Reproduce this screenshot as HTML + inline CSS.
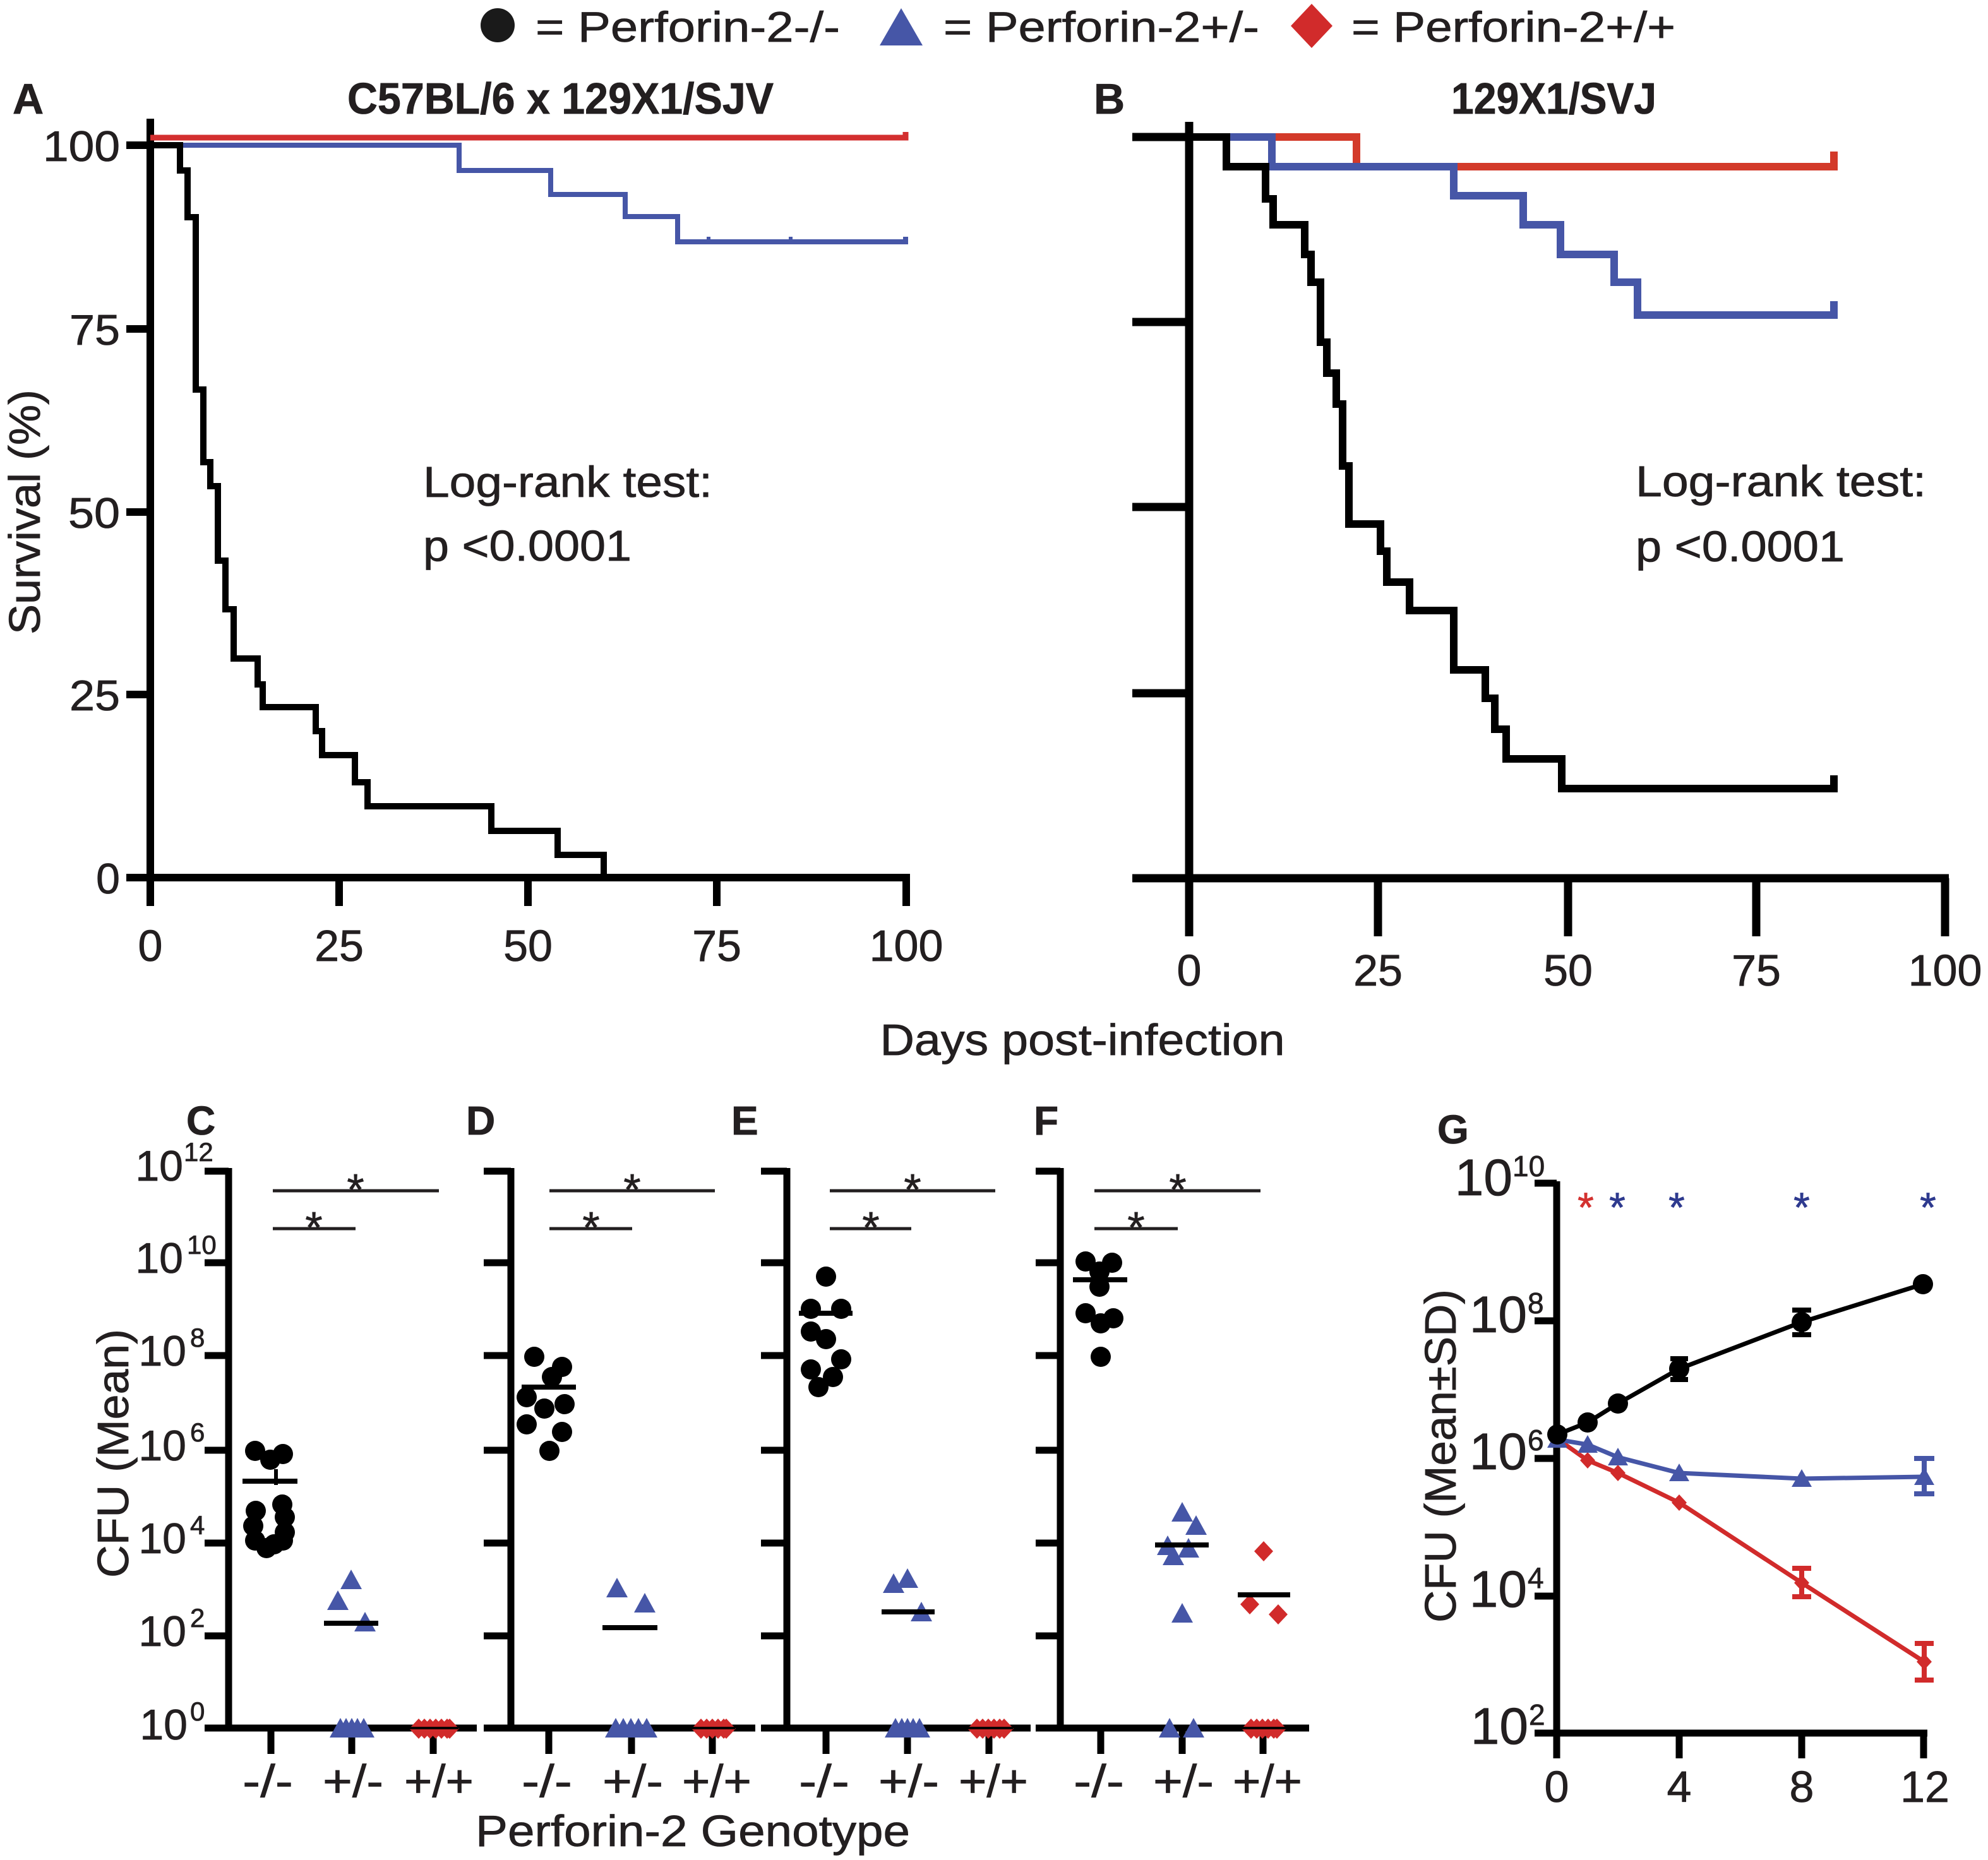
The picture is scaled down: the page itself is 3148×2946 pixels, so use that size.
<!DOCTYPE html>
<html><head><meta charset="utf-8"><style>
html,body{margin:0;padding:0;background:#fff;}
svg{display:block;}
text{font-family:"Liberation Sans",Arial,sans-serif;fill:#231f20;stroke:#231f20;stroke-width:0.8;}
.b{font-weight:bold;}
</style></head><body>
<svg xmlns="http://www.w3.org/2000/svg" xmlns:xlink="http://www.w3.org/1999/xlink" width="3148" height="2946" viewBox="0 0 3148 2946">
<defs>
<path id="tri" d="M0,-19 L17,12 L-17,12 Z" fill="#4656a7"/>
<path id="dia" d="M0,-16 L15,0 L0,16 L-15,0 Z" fill="#d12b2b"/>
<circle id="dot" r="16" fill="#000"/>
<path id="gtri" d="M0,-17 L16,11 L-16,11 Z" fill="#4656a7"/>
<path id="gdia" d="M0,-13 L12,0 L0,13 L-12,0 Z" fill="#d12b2b"/>
<circle id="gdot" r="16" fill="#000"/>
</defs>
<rect width="3148" height="2946" fill="#fff"/>

<!-- Legend -->
<circle cx="788" cy="40" r="27" fill="#1a1a1a"/>
<text x="848" y="66" font-size="68" textLength="482" lengthAdjust="spacingAndGlyphs">= Perforin-2-/-</text>
<path d="M1427,13 L1461,72 L1393,72 Z" fill="#4656a7"/>
<text x="1494" y="66" font-size="68" textLength="500" lengthAdjust="spacingAndGlyphs">= Perforin-2+/-</text>
<path d="M2077,6 L2110,41 L2077,76 L2044,41 Z" fill="#d12b2b"/>
<text x="2140" y="66" font-size="68" textLength="513" lengthAdjust="spacingAndGlyphs">= Perforin-2+/+</text>

<!-- ============ Panel A ============ -->
<text class="b" x="20" y="180" font-size="68">A</text>
<text class="b" x="550" y="180" font-size="70" textLength="675" lengthAdjust="spacingAndGlyphs">C57BL/6 x 129X1/SJV</text>
<g stroke="#000" stroke-width="12" fill="none">
<line x1="238" y1="188" x2="238" y2="1435"/>
<line x1="200" y1="1390" x2="1441" y2="1390"/>
<line x1="200" y1="230" x2="238" y2="230"/>
<line x1="200" y1="521" x2="238" y2="521"/>
<line x1="200" y1="811" x2="238" y2="811"/>
<line x1="200" y1="1100" x2="238" y2="1100"/>
<line x1="537" y1="1390" x2="537" y2="1435"/>
<line x1="836" y1="1390" x2="836" y2="1435"/>
<line x1="1135" y1="1390" x2="1135" y2="1435"/>
<line x1="1435" y1="1390" x2="1435" y2="1435"/>
</g>
<g font-size="68" text-anchor="end">
<text x="190" y="255" textLength="122" lengthAdjust="spacingAndGlyphs">100</text>
<text x="190" y="546" textLength="80" lengthAdjust="spacingAndGlyphs">75</text>
<text x="190" y="836" textLength="82" lengthAdjust="spacingAndGlyphs">50</text>
<text x="190" y="1125" textLength="80" lengthAdjust="spacingAndGlyphs">25</text>
<text x="190" y="1415">0</text>
</g>
<g font-size="70" text-anchor="middle">
<text x="238" y="1522">0</text>
<text x="537" y="1522">25</text>
<text x="836" y="1522">50</text>
<text x="1135" y="1522">75</text>
<text x="1435" y="1522">100</text>
</g>
<text transform="translate(63,811) rotate(-90)" font-size="70" text-anchor="middle" textLength="388" lengthAdjust="spacingAndGlyphs">Survival (%)</text>
<text x="670" y="787" font-size="69" textLength="458" lengthAdjust="spacingAndGlyphs">Log-rank test:</text>
<text x="670" y="888" font-size="69" textLength="330" lengthAdjust="spacingAndGlyphs">p &lt;0.0001</text>
<!-- A curves -->
<path d="M238,218 H1434 V209" stroke="#d32f2f" stroke-width="9" fill="none"/>
<path d="M238,230 H727 V270 H872 V308 H990 V343 H1073 V383 H1434 V375" stroke="#4656a7" stroke-width="8" fill="none"/>
<path d="M1122,383 V375 M1252,383 V375" stroke="#4656a7" stroke-width="6" fill="none"/>
<path d="M238,230 H285 V270 H297 V344 H310 V617 H322 V732 H333 V770 H345 V888 H357 V965 H370 V1043 H408 V1084 H416 V1120 H500 V1158 H510 V1196 H562 V1239 H582 V1277 H778 V1316 H883 V1354 H956 V1390" stroke="#000" stroke-width="10" fill="none"/>

<!-- ============ Panel B ============ -->
<text class="b" x="1732" y="180" font-size="68">B</text>
<text class="b" x="2298" y="180" font-size="70" textLength="325" lengthAdjust="spacingAndGlyphs">129X1/SVJ</text>
<g stroke="#000" stroke-width="13" fill="none">
<line x1="1883" y1="193" x2="1883" y2="1483"/>
<line x1="1793" y1="1391" x2="3086" y2="1391"/>
<line x1="1793" y1="217" x2="1883" y2="217"/>
<line x1="1793" y1="510" x2="1883" y2="510"/>
<line x1="1793" y1="803" x2="1883" y2="803"/>
<line x1="1793" y1="1098" x2="1883" y2="1098"/>
<line x1="2182" y1="1391" x2="2182" y2="1483"/>
<line x1="2483" y1="1391" x2="2483" y2="1483"/>
<line x1="2781" y1="1391" x2="2781" y2="1483"/>
<line x1="3080" y1="1391" x2="3080" y2="1483"/>
</g>
<g font-size="70" text-anchor="middle">
<text x="1883" y="1561">0</text>
<text x="2182" y="1561">25</text>
<text x="2483" y="1561">50</text>
<text x="2781" y="1561">75</text>
<text x="3080" y="1561">100</text>
</g>
<text x="2590" y="786" font-size="69" textLength="460" lengthAdjust="spacingAndGlyphs">Log-rank test:</text>
<text x="2590" y="889" font-size="69" textLength="331" lengthAdjust="spacingAndGlyphs">p &lt;0.0001</text>
<text x="1714" y="1671" font-size="70" text-anchor="middle" textLength="641" lengthAdjust="spacingAndGlyphs">Days post-infection</text>
<!-- B curves -->
<path d="M1883,217 H2148 V264 H2904 V240" stroke="#d33a2a" stroke-width="12" fill="none"/>
<path d="M1883,217 H2014 V264 H2302 V310 H2412 V356 H2471 V403 H2556 V447 H2593 V499 H2904 V477" stroke="#4656a7" stroke-width="12" fill="none"/>
<path d="M1883,217 H1942 V264 H2004 V315 H2016 V356 H2066 V403 H2076 V447 H2091 V542 H2101 V591 H2116 V640 H2126 V738 H2136 V830 H2186 V873 H2196 V922 H2232 V967 H2302 V1061 H2352 V1106 H2367 V1155 H2385 V1202 H2473 V1249 H2904 V1228" stroke="#000" stroke-width="12" fill="none"/>

<!-- ============ Panels C-F axes ============ -->
<g stroke="#000" stroke-width="11" fill="none">
<!-- C -->
<line x1="362" y1="1850" x2="362" y2="2742"/>
<line x1="324" y1="2737" x2="755" y2="2737"/>
<line x1="324" y1="1855" x2="362" y2="1855"/>
<line x1="324" y1="2000" x2="362" y2="2000"/>
<line x1="324" y1="2147" x2="362" y2="2147"/>
<line x1="324" y1="2297" x2="362" y2="2297"/>
<line x1="324" y1="2444" x2="362" y2="2444"/>
<line x1="324" y1="2591" x2="362" y2="2591"/>
<line x1="429" y1="2737" x2="429" y2="2778"/>
<line x1="557" y1="2737" x2="557" y2="2778"/>
<line x1="686" y1="2737" x2="686" y2="2778"/>
<!-- D -->
<line x1="809" y1="1850" x2="809" y2="2742"/>
<line x1="766" y1="2737" x2="1196" y2="2737"/>
<line x1="766" y1="1855" x2="809" y2="1855"/>
<line x1="766" y1="2000" x2="809" y2="2000"/>
<line x1="766" y1="2147" x2="809" y2="2147"/>
<line x1="766" y1="2297" x2="809" y2="2297"/>
<line x1="766" y1="2444" x2="809" y2="2444"/>
<line x1="766" y1="2591" x2="809" y2="2591"/>
<line x1="869" y1="2737" x2="869" y2="2778"/>
<line x1="1000" y1="2737" x2="1000" y2="2778"/>
<line x1="1128" y1="2737" x2="1128" y2="2778"/>
<!-- E -->
<line x1="1246" y1="1850" x2="1246" y2="2742"/>
<line x1="1205" y1="2737" x2="1632" y2="2737"/>
<line x1="1205" y1="1855" x2="1246" y2="1855"/>
<line x1="1205" y1="2000" x2="1246" y2="2000"/>
<line x1="1205" y1="2147" x2="1246" y2="2147"/>
<line x1="1205" y1="2297" x2="1246" y2="2297"/>
<line x1="1205" y1="2444" x2="1246" y2="2444"/>
<line x1="1205" y1="2591" x2="1246" y2="2591"/>
<line x1="1308" y1="2737" x2="1308" y2="2778"/>
<line x1="1437" y1="2737" x2="1437" y2="2778"/>
<line x1="1566" y1="2737" x2="1566" y2="2778"/>
<!-- F -->
<line x1="1679" y1="1850" x2="1679" y2="2742"/>
<line x1="1640" y1="2737" x2="2073" y2="2737"/>
<line x1="1640" y1="1855" x2="1679" y2="1855"/>
<line x1="1640" y1="2000" x2="1679" y2="2000"/>
<line x1="1640" y1="2147" x2="1679" y2="2147"/>
<line x1="1640" y1="2297" x2="1679" y2="2297"/>
<line x1="1640" y1="2444" x2="1679" y2="2444"/>
<line x1="1640" y1="2591" x2="1679" y2="2591"/>
<line x1="1743" y1="2737" x2="1743" y2="2778"/>
<line x1="1872" y1="2737" x2="1872" y2="2778"/>
<line x1="2000" y1="2737" x2="2000" y2="2778"/>
</g>

<!-- panel letters -->
<g class="b" font-size="64">
<text class="b" x="295" y="1797">C</text>
<text class="b" x="738" y="1797">D</text>
<text class="b" x="1158" y="1797">E</text>
<text class="b" x="1637" y="1797">F</text>
<text class="b" x="2276" y="1811">G</text>
</g>

<!-- C y labels -->
<g font-size="68" text-anchor="end">
<text x="290" y="1870">10</text>
<text x="290" y="2016">10</text>
<text x="295" y="2163">10</text>
<text x="295" y="2313">10</text>
<text x="295" y="2460">10</text>
<text x="295" y="2607">10</text>
<text x="297" y="2755">10</text>
</g>
<g font-size="42">
<text x="291" y="1839">12</text>
<text x="296" y="1986">10</text>
<text x="301" y="2133">8</text>
<text x="301" y="2283">6</text>
<text x="301" y="2430">4</text>
<text x="301" y="2577">2</text>
<text x="301" y="2725">0</text>
</g>
<text transform="translate(203,2302) rotate(-90)" font-size="70" text-anchor="middle" textLength="394" lengthAdjust="spacingAndGlyphs">CFU (Mean)</text>

<!-- x tick labels C-F -->
<g font-size="72" text-anchor="middle">
<text x="424" y="2846" textLength="80" lengthAdjust="spacingAndGlyphs">-/-</text><text x="559" y="2846" textLength="96" lengthAdjust="spacingAndGlyphs">+/-</text><text x="695" y="2846" textLength="110" lengthAdjust="spacingAndGlyphs">+/+</text>
<text x="866" y="2846" textLength="80" lengthAdjust="spacingAndGlyphs">-/-</text><text x="1002" y="2846" textLength="96" lengthAdjust="spacingAndGlyphs">+/-</text><text x="1135" y="2846" textLength="110" lengthAdjust="spacingAndGlyphs">+/+</text>
<text x="1305" y="2846" textLength="80" lengthAdjust="spacingAndGlyphs">-/-</text><text x="1439" y="2846" textLength="96" lengthAdjust="spacingAndGlyphs">+/-</text><text x="1573" y="2846" textLength="110" lengthAdjust="spacingAndGlyphs">+/+</text>
<text x="1740" y="2846" textLength="80" lengthAdjust="spacingAndGlyphs">-/-</text><text x="1874" y="2846" textLength="96" lengthAdjust="spacingAndGlyphs">+/-</text><text x="2007" y="2846" textLength="110" lengthAdjust="spacingAndGlyphs">+/+</text>
</g>
<text x="1097" y="2924" font-size="70" text-anchor="middle" textLength="688" lengthAdjust="spacingAndGlyphs">Perforin-2 Genotype</text>

<!-- significance bars -->
<g stroke="#231f20" stroke-width="5">
<line x1="432" y1="1886" x2="695" y2="1886"/><line x1="432" y1="1946" x2="563" y2="1946"/>
<line x1="870" y1="1886" x2="1132" y2="1886"/><line x1="870" y1="1946" x2="1001" y2="1946"/>
<line x1="1314" y1="1886" x2="1576" y2="1886"/><line x1="1314" y1="1946" x2="1443" y2="1946"/>
<line x1="1733" y1="1886" x2="1996" y2="1886"/><line x1="1733" y1="1946" x2="1865" y2="1946"/>
</g>
<g font-size="70" text-anchor="middle">
<text x="563" y="1908">*</text><text x="497" y="1968">*</text>
<text x="1001" y="1908">*</text><text x="936" y="1968">*</text>
<text x="1445" y="1908">*</text><text x="1379" y="1968">*</text>
<text x="1865" y="1908">*</text><text x="1799" y="1968">*</text>
</g>

<!-- C data -->
<use xlink:href="#dot" x="404" y="2298"/><use xlink:href="#dot" x="448" y="2303"/><use xlink:href="#dot" x="428" y="2312"/>
<use xlink:href="#dot" x="405" y="2393"/><use xlink:href="#dot" x="447" y="2383"/><use xlink:href="#dot" x="451" y="2403"/>
<use xlink:href="#dot" x="401" y="2417"/><use xlink:href="#dot" x="451" y="2427"/><use xlink:href="#dot" x="404" y="2440"/>
<use xlink:href="#dot" x="448" y="2440"/><use xlink:href="#dot" x="422" y="2452"/><use xlink:href="#dot" x="434" y="2446"/>
<line x1="437" y1="2327" x2="437" y2="2352" stroke="#000" stroke-width="6"/>
<use xlink:href="#tri" x="556" y="2505"/><use xlink:href="#tri" x="535" y="2538"/><use xlink:href="#tri" x="578" y="2572"/>
<use xlink:href="#tri" x="539" y="2740"/><use xlink:href="#tri" x="548" y="2740"/><use xlink:href="#tri" x="557" y="2740"/><use xlink:href="#tri" x="566" y="2740"/><use xlink:href="#tri" x="576" y="2740"/>
<use xlink:href="#dia" x="663" y="2738"/><use xlink:href="#dia" x="672" y="2738"/><use xlink:href="#dia" x="681" y="2738"/><use xlink:href="#dia" x="690" y="2738"/><use xlink:href="#dia" x="699" y="2738"/><use xlink:href="#dia" x="708" y="2738"/><use xlink:href="#dia" x="712" y="2738"/>

<!-- D data -->
<use xlink:href="#dot" x="846" y="2149"/><use xlink:href="#dot" x="890" y="2165"/><use xlink:href="#dot" x="874" y="2181"/>
<use xlink:href="#dot" x="834" y="2213"/><use xlink:href="#dot" x="894" y="2224"/><use xlink:href="#dot" x="862" y="2231"/>
<use xlink:href="#dot" x="834" y="2256"/><use xlink:href="#dot" x="890" y="2268"/><use xlink:href="#dot" x="870" y="2298"/>
<use xlink:href="#tri" x="977" y="2518"/><use xlink:href="#tri" x="1021" y="2542"/>
<use xlink:href="#tri" x="975" y="2740"/><use xlink:href="#tri" x="987" y="2740"/><use xlink:href="#tri" x="999" y="2740"/><use xlink:href="#tri" x="1011" y="2740"/><use xlink:href="#tri" x="1024" y="2740"/>
<use xlink:href="#dia" x="1110" y="2738"/><use xlink:href="#dia" x="1119" y="2738"/><use xlink:href="#dia" x="1128" y="2738"/><use xlink:href="#dia" x="1137" y="2738"/><use xlink:href="#dia" x="1146" y="2738"/><use xlink:href="#dia" x="1150" y="2738"/>

<!-- E data -->
<use xlink:href="#dot" x="1308" y="2022"/><use xlink:href="#dot" x="1284" y="2073"/><use xlink:href="#dot" x="1332" y="2073"/>
<use xlink:href="#dot" x="1284" y="2109"/><use xlink:href="#dot" x="1308" y="2121"/><use xlink:href="#dot" x="1332" y="2153"/>
<use xlink:href="#dot" x="1284" y="2169"/><use xlink:href="#dot" x="1319" y="2181"/><use xlink:href="#dot" x="1296" y="2197"/>
<use xlink:href="#tri" x="1415" y="2511"/><use xlink:href="#tri" x="1437" y="2503"/><use xlink:href="#tri" x="1459" y="2556"/>
<use xlink:href="#tri" x="1418" y="2740"/><use xlink:href="#tri" x="1428" y="2740"/><use xlink:href="#tri" x="1437" y="2740"/><use xlink:href="#tri" x="1446" y="2740"/><use xlink:href="#tri" x="1456" y="2740"/>
<use xlink:href="#dia" x="1547" y="2738"/><use xlink:href="#dia" x="1556" y="2738"/><use xlink:href="#dia" x="1565" y="2738"/><use xlink:href="#dia" x="1574" y="2738"/><use xlink:href="#dia" x="1583" y="2738"/><use xlink:href="#dia" x="1590" y="2738"/>

<!-- F data -->
<use xlink:href="#dot" x="1719" y="1998"/><use xlink:href="#dot" x="1761" y="2000"/><use xlink:href="#dot" x="1741" y="2014"/>
<use xlink:href="#dot" x="1741" y="2038"/><use xlink:href="#dot" x="1719" y="2080"/><use xlink:href="#dot" x="1763" y="2088"/>
<use xlink:href="#dot" x="1743" y="2096"/><use xlink:href="#dot" x="1743" y="2149"/>
<use xlink:href="#tri" x="1872" y="2398"/><use xlink:href="#tri" x="1894" y="2419"/><use xlink:href="#tri" x="1849" y="2451"/>
<use xlink:href="#tri" x="1882" y="2455"/><use xlink:href="#tri" x="1858" y="2467"/><use xlink:href="#tri" x="1872" y="2558"/>
<use xlink:href="#tri" x="1852" y="2740"/><use xlink:href="#tri" x="1890" y="2740"/>
<use xlink:href="#dia" x="2001" y="2457"/><use xlink:href="#dia" x="1979" y="2541"/><use xlink:href="#dia" x="2024" y="2557"/>
<use xlink:href="#dia" x="1981" y="2738"/><use xlink:href="#dia" x="1990" y="2738"/><use xlink:href="#dia" x="1999" y="2738"/><use xlink:href="#dia" x="2008" y="2738"/><use xlink:href="#dia" x="2017" y="2738"/><use xlink:href="#dia" x="2022" y="2738"/>

<!-- mean lines -->
<g stroke="#000" stroke-width="8">
<line x1="384" y1="2346" x2="471" y2="2346"/>
<line x1="513" y1="2571" x2="599" y2="2571"/>
<line x1="826" y1="2197" x2="912" y2="2197"/>
<line x1="954" y1="2578" x2="1041" y2="2578"/>
<line x1="1265" y1="2080" x2="1350" y2="2080"/>
<line x1="1396" y1="2553" x2="1480" y2="2553"/>
<line x1="1699" y1="2027" x2="1785" y2="2027"/>
<line x1="1829" y1="2447" x2="1914" y2="2447"/>
<line x1="1960" y1="2526" x2="2043" y2="2526"/>
</g>
<g stroke="#000" stroke-width="4">
<line x1="648" y1="2737" x2="726" y2="2737"/>
<line x1="1095" y1="2737" x2="1164" y2="2737"/>
<line x1="1532" y1="2737" x2="1604" y2="2737"/>
<line x1="1965" y1="2737" x2="2037" y2="2737"/>
</g>

<!-- ============ Panel G ============ -->
<g stroke="#000" stroke-width="11" fill="none">
<line x1="2465" y1="1871" x2="2465" y2="2785"/>
<line x1="2430" y1="2745" x2="3052" y2="2745"/>
<line x1="2430" y1="1874" x2="2465" y2="1874"/>
<line x1="2430" y1="2092" x2="2465" y2="2092"/>
<line x1="2430" y1="2310" x2="2465" y2="2310"/>
<line x1="2430" y1="2528" x2="2465" y2="2528"/>
<line x1="2659" y1="2745" x2="2659" y2="2785"/>
<line x1="2853" y1="2745" x2="2853" y2="2785"/>
<line x1="3046" y1="2745" x2="3046" y2="2785"/>
</g>
<g font-size="82" text-anchor="end">
<text x="2395" y="1893">10</text>
<text x="2418" y="2110">10</text>
<text x="2418" y="2327">10</text>
<text x="2418" y="2545">10</text>
<text x="2420" y="2762">10</text>
</g>
<g font-size="46">
<text x="2395" y="1863">10</text>
<text x="2419" y="2080">8</text>
<text x="2419" y="2297">6</text>
<text x="2419" y="2515">4</text>
<text x="2421" y="2732">2</text>
</g>
<g font-size="70" text-anchor="middle">
<text x="2465" y="2854">0</text>
<text x="2659" y="2854">4</text>
<text x="2853" y="2854">8</text>
<text x="3048" y="2854">12</text>
</g>
<text transform="translate(2305,2306) rotate(-90)" font-size="70" text-anchor="middle" textLength="528" lengthAdjust="spacingAndGlyphs">CFU (Mean±SD)</text>
<g font-size="66" text-anchor="middle">
<text x="2511" y="1935" style="fill:#d3312f;stroke:#d3312f">*</text>
<text x="2561" y="1935" style="fill:#2e3a8f;stroke:#2e3a8f">*</text>
<text x="2655" y="1935" style="fill:#2e3a8f;stroke:#2e3a8f">*</text>
<text x="2853" y="1935" style="fill:#2e3a8f;stroke:#2e3a8f">*</text>
<text x="3053" y="1935" style="fill:#2e3a8f;stroke:#2e3a8f">*</text>
</g>
<!-- G lines -->
<polyline points="2466,2279 2514,2313 2562,2333 2659,2380 2853,2507 3047,2632" stroke="#d12b2b" stroke-width="7" fill="none"/>
<g stroke="#d12b2b" stroke-width="8" fill="none">
<path d="M2853,2484 V2529 M2838,2484 H2868 M2838,2529 H2868"/>
<path d="M3047,2603 V2661 M3032,2603 H3062 M3032,2661 H3062"/>
</g>
<use xlink:href="#gdia" x="2514" y="2313"/><use xlink:href="#gdia" x="2562" y="2333"/><use xlink:href="#gdia" x="2659" y="2380"/><use xlink:href="#gdia" x="2853" y="2507"/><use xlink:href="#gdia" x="3047" y="2632"/>
<polyline points="2466,2280 2514,2288 2562,2308 2659,2333 2853,2342 3047,2339" stroke="#4656a7" stroke-width="7" fill="none"/>
<g stroke="#4656a7" stroke-width="8" fill="none">
<path d="M3047,2310 V2366 M3031,2310 H3063 M3031,2366 H3063"/>
</g>
<use xlink:href="#gtri" x="2466" y="2282"/><use xlink:href="#gtri" x="2514" y="2290"/><use xlink:href="#gtri" x="2562" y="2310"/><use xlink:href="#gtri" x="2659" y="2335"/><use xlink:href="#gtri" x="2853" y="2344"/><use xlink:href="#gtri" x="3047" y="2341"/>
<polyline points="2466,2272 2514,2253 2562,2223 2659,2168 2853,2094 3045,2034" stroke="#000" stroke-width="7" fill="none"/>
<g stroke="#000" stroke-width="8" fill="none">
<path d="M2659,2152 V2185 M2645,2152 H2673 M2645,2185 H2673"/>
<path d="M2853,2075 V2114 M2838,2075 H2868 M2838,2114 H2868"/>
</g>
<use xlink:href="#gdot" x="2466" y="2272"/><use xlink:href="#gdot" x="2514" y="2253"/><use xlink:href="#gdot" x="2562" y="2223"/><use xlink:href="#gdot" x="2659" y="2168"/><use xlink:href="#gdot" x="2853" y="2094"/><use xlink:href="#gdot" x="3045" y="2034"/>
</svg>
</body></html>
